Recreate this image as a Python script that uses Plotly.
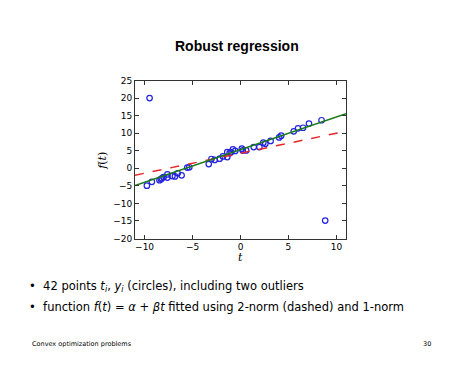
import plotly.graph_objects as go

t_pts = [-9.76, -9.48, -9.24, -8.45, -8.3, -8.2, -8.03, -7.62, -7.62, -7.1, -6.83, -6.55, -6.14,
         -5.55, -5.34, -3.31, -3.03, -2.69, -2.17, -1.83, -1.38, -1.38, -1.14, -1.0, -0.79,
         -0.55, 0.14, 0.24, 0.59, 1.38, 1.97, 2.38, 2.59, 3.14, 4.03, 4.24, 5.55, 6.0, 6.52,
         7.14, 8.45, 8.83]
y_pts = [-4.95, 20.0, -3.85, -3.4, -3.1, -2.85, -2.5, -1.75, -2.65, -2.2, -2.3, -1.4, -2.0,
         0.2, 0.3, 1.2, 2.65, 2.4, 2.75, 3.4, 4.6, 3.2, 4.3, 4.6, 5.4,
         4.95, 5.6, 5.1, 5.1, 6.05, 6.05, 7.3, 7.0, 7.8, 8.8, 9.3, 10.55, 11.4, 11.55,
         12.75, 13.7, -14.9]

t_line = [-11, 11]
fit_l2 = [4.3, 0.57]   # alpha, beta (2-norm, dashed)
fit_l1 = [5.3, 0.93]   # alpha, beta (1-norm, solid)

x_ticks = [-10, -5, 0, 5, 10]
y_ticks = [-20, -15, -10, -5, 0, 5, 10, 15, 20, 25]

def lab(v):
    return ("\u2212" + str(-v)) if v < 0 else str(v)

# page has an 8px body margin: figure is drawn at (8, 8)
W, H = 466, 358
OFF = 8
def px(x):
    return (x - OFF) / W
def py(y):
    return 1 - (y - OFF) / H

fig = go.Figure()
fig.add_trace(go.Scatter(x=t_pts, y=y_pts, mode="markers",
                         marker=dict(symbol="circle-open", size=5.5, color="#2323e0",
                                     line=dict(width=1.2, color="#2323e0")),
                         showlegend=False))
fig.add_trace(go.Scatter(x=t_line, y=[fit_l2[0] + fit_l2[1] * t for t in t_line], mode="lines",
                         line=dict(color="#e8262a", width=1.5, dash="dash"), showlegend=False))
fig.add_trace(go.Scatter(x=t_line, y=[fit_l1[0] + fit_l1[1] * t for t in t_line], mode="lines",
                         line=dict(color="#1a7a1a", width=1.5), showlegend=False))

axis_common = dict(showgrid=False, zeroline=False, showline=True, linecolor="#333333", linewidth=1,
                   mirror="ticks", ticks="inside", ticklen=4, tickcolor="#333333",
                   tickfont=dict(family="DejaVu Sans", size=9, color="black"))
fig.update_xaxes(range=[-11, 11], tickvals=x_ticks, ticktext=[lab(v) for v in x_ticks],
                 domain=[px(135), px(346)], **axis_common)
fig.update_yaxes(range=[-20, 25], tickvals=y_ticks, ticktext=[lab(v) for v in y_ticks],
                 domain=[py(240), py(77.5)], **axis_common)

ann = [
    dict(text="<b>Robust regression</b>", x=px(237), y=py(42), xanchor="center", yanchor="middle",
         font=dict(family="Liberation Sans", size=14, color="black")),
    dict(text="<i>f</i>(<i>t</i>)", x=px(103), y=py(160), xanchor="center", yanchor="middle",
         textangle=-90, font=dict(family="DejaVu Serif", size=11, color="black")),
    dict(text="<i>t</i>", x=px(240), y=py(260), xanchor="center", yanchor="middle",
         font=dict(family="DejaVu Serif", size=11, color="black")),
    dict(text="\u2022  42 points <i>t<sub>i</sub></i>, <i>y<sub>i</sub></i> (circles), including two outliers",
         x=px(27), y=py(289), xanchor="left", yanchor="middle",
         font=dict(family="DejaVu Sans", size=11.5, color="black")),
    dict(text="\u2022  function <i>f</i>(<i>t</i>) = <i>\u03b1</i> + <i>\u03b2t</i> fitted using 2-norm (dashed) and 1-norm",
         x=px(27), y=py(310), xanchor="left", yanchor="middle",
         font=dict(family="DejaVu Sans", size=11.5, color="black")),
    dict(text="Convex optimization problems", x=px(30), y=py(348), xanchor="left", yanchor="middle",
         font=dict(family="DejaVu Sans", size=6.5, color="black")),
    dict(text="30", x=px(433), y=py(348), xanchor="right", yanchor="middle",
         font=dict(family="DejaVu Sans", size=6.5, color="black")),
]
for a in ann:
    a.update(xref="paper", yref="paper", showarrow=False)

fig.update_layout(width=W, height=H, margin=dict(l=0, r=0, t=0, b=0),
                  paper_bgcolor="white", plot_bgcolor="white", annotations=ann)
fig.write_html("out.html")
